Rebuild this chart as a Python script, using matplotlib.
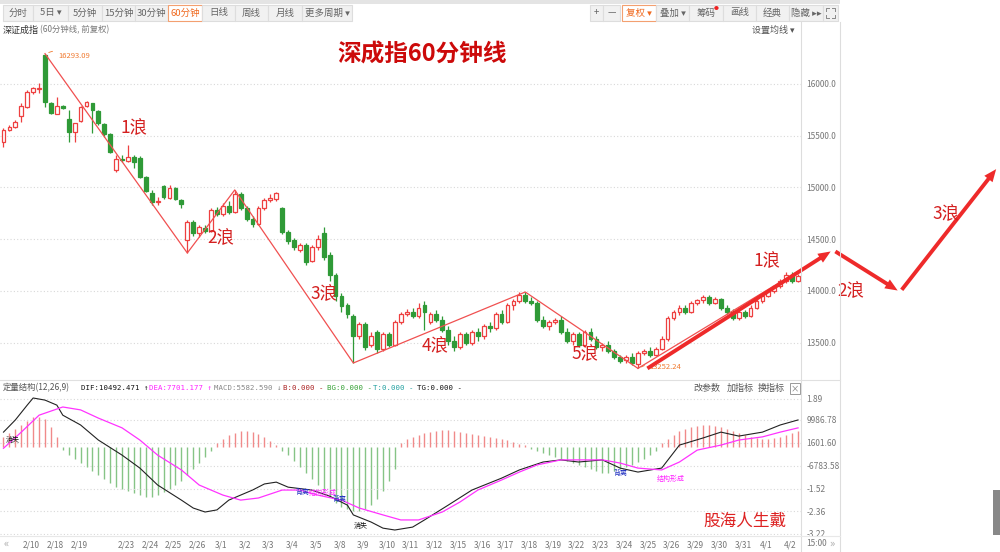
import matplotlib
matplotlib.use("Agg")
import matplotlib.pyplot as plt
from matplotlib.patches import Rectangle
from matplotlib.lines import Line2D
import numpy as np

plt.rcParams['font.family'] = ['Noto Sans CJK SC', 'DejaVu Sans']

# ---- data: 60 minute candles (2/9 last 3 bars, then 4 bars per day) ----
c_open = [15439, 15555, 15584, 15690, 15777, 15922, 15951, 16280, 15816, 15710,
          15787, 15661, 15536, 15642, 15787, 15816, 15739, 15613, 15516, 15169,
          15275, 15256, 15294, 15285, 15101, 14947, 14860, 15014, 14898, 14995,
          14879, 14493, 14667, 14560, 14610, 14580, 14780, 14740, 14820, 14760,
          14940, 14800, 14700, 14650, 14800, 14880, 14890, 14800, 14570, 14490,
          14400, 14440, 14290, 14420, 14560, 14350, 14150, 13950, 13860, 13760,
          13560, 13680, 13480, 13600, 13440, 13580, 13480, 13700, 13780, 13800,
          13760, 13860, 13700, 13780, 13720, 13620, 13520, 13460, 13580, 13500,
          13600, 13560, 13660, 13640, 13780, 13700, 13860, 13900, 13960, 13900,
          13880, 13720, 13660, 13700, 13720, 13600, 13520, 13580, 13480, 13600,
          13540, 13460, 13480, 13420, 13360, 13330, 13360, 13290, 13400, 13420,
          13380, 13440, 13540, 13740, 13800, 13840, 13800, 13880, 13910, 13940,
          13880, 13920, 13840, 13800, 13740, 13800, 13760, 13840, 13900, 13950,
          14000, 14050, 14100, 14150, 14100]
c_high = [15574, 15603, 15652, 15816, 15942, 15971, 16009, 16293, 15826, 15874,
          15797, 15748, 15623, 15787, 15835, 15816, 15748, 15623, 15526, 15314,
          15314, 15410, 15314, 15304, 15111, 14976, 14908, 15024, 15024, 15005,
          14889, 14690, 14690, 14640, 14640, 14800, 14810, 14850, 14870, 14976,
          14960, 14820, 14720, 14820, 14900, 14940, 14960, 14810, 14590, 14510,
          14460, 14460, 14440, 14540, 14620, 14380, 14170, 13980, 13880, 13780,
          13700, 13700, 13600, 13620, 13600, 13600, 13720, 13800, 13830, 13840,
          13880, 13900, 13800, 13820, 13760, 13660, 13560, 13600, 13600, 13620,
          13640, 13680, 13700, 13800, 13820, 13880, 13920, 13990, 13990, 13940,
          13900, 13760, 13720, 13740, 13760, 13640, 13600, 13600, 13620, 13640,
          13560, 13500, 13520, 13440, 13380, 13380, 13400, 13420, 13440, 13460,
          13460, 13560, 13760, 13820, 13860, 13860, 13900, 13920, 13960, 13960,
          13940, 13930, 13860, 13830, 13820, 13820, 13860, 13920, 13960, 14020,
          14060, 14120, 14180, 14180, 14160]
c_low = [15391, 15545, 15574, 15632, 15768, 15903, 15913, 15777, 15710, 15710,
         15758, 15439, 15439, 15632, 15777, 15526, 15603, 15488, 15333, 15150,
         15246, 15246, 15188, 15092, 14956, 14831, 14831, 14889, 14889, 14879,
         14802, 14367, 14530, 14520, 14560, 14570, 14720, 14720, 14740, 14750,
         14780, 14680, 14620, 14640, 14780, 14860, 14870, 14550, 14450, 14400,
         14380, 14250, 14280, 14400, 14300, 14100, 13900, 13800, 13740, 13304,
         13540, 13430, 13460, 13400, 13420, 13460, 13470, 13680, 13760, 13740,
         13740, 13620, 13680, 13700, 13600, 13480, 13420, 13440, 13480, 13480,
         13520, 13540, 13600, 13620, 13680, 13690, 13820, 13880, 13880, 13860,
         13700, 13640, 13620, 13680, 13580, 13500, 13480, 13460, 13460, 13520,
         13440, 13420, 13400, 13340, 13300, 13300, 13280, 13252, 13380, 13360,
         13370, 13430, 13520, 13720, 13770, 13780, 13790, 13860, 13880, 13860,
         13870, 13820, 13780, 13720, 13720, 13740, 13750, 13830, 13880, 13940,
         13980, 14030, 14080, 14080, 14090]
c_close = [15555, 15584, 15632, 15787, 15922, 15961, 15961, 15826, 15719, 15787,
           15768, 15536, 15623, 15777, 15826, 15748, 15623, 15516, 15343, 15275,
           15265, 15294, 15246, 15101, 14966, 14860, 14869, 14908, 14995, 14889,
           14840, 14667, 14560, 14620, 14580, 14780, 14740, 14820, 14760, 14940,
           14800, 14700, 14650, 14800, 14880, 14900, 14950, 14570, 14480, 14420,
           14440, 14280, 14420, 14500, 14330, 14150, 13950, 13850, 13780, 13560,
           13680, 13460, 13560, 13440, 13580, 13480, 13700, 13780, 13800, 13760,
           13840, 13800, 13780, 13720, 13620, 13520, 13460, 13580, 13500, 13600,
           13560, 13660, 13640, 13780, 13700, 13860, 13900, 13960, 13900, 13880,
           13720, 13660, 13700, 13720, 13600, 13520, 13580, 13480, 13600, 13540,
           13460, 13480, 13420, 13360, 13320, 13360, 13300, 13400, 13420, 13380,
           13440, 13540, 13740, 13800, 13840, 13800, 13880, 13910, 13940, 13880,
           13920, 13840, 13800, 13740, 13800, 13760, 13840, 13900, 13950, 14000,
           14050, 14100, 14150, 14100, 14140]

# MACD histogram, one per bar
hist = [3650, 5110, 6570, 8030, 9490, 10950, 10950, 10220, 7300, 3650,
        -1095, -2920, -4380, -5840, -7300, -8760, -10220, -11680, -13140, -14600,
        -15330, -16060, -16790, -17520, -18250, -18250, -17520, -16425, -15330, -13870,
        -12410, -10220, -8030, -5840, -3650, -1460,
        1460, 2920, 4380, 5110, 5840, 5840, 5475, 4745, 3650, 2190, 730,
        -1460, -2920, -5110, -7300, -9490, -11680, -13870, -16060, -18250, -20440,
        -21900, -22630, -23360, -23360, -22630, -21170, -18980, -16060, -12410, -8030,
        1460, 2920, 3650, 4380, 5110, 5475, 5840, 6205, 6205, 5840, 5475, 5110, 4745,
        4380, 4015, 3650, 3285, 2920, 2555, 1825, 1095, 730,
        -730, -1460, -2190, -2920, -3650, -4380, -5110, -5840, -6570, -7300, -8030,
        -8760, -9490, -9490, -8760, -8030, -7300, -6570, -5475, -4380, -2920, -1460,
        1460, 2920, 4380, 5840, 6570, 7300, 7665, 8030, 8030, 7665, 7300, 6570, 5840,
        5110, 4380, 3650, 3285, 2920, 2920, 3285, 3650, 4380, 5110, 5840]

dif_i = [0, 2, 4, 5, 7, 9, 10, 13, 16, 20, 23, 26, 30, 32, 34, 36, 38, 42, 44, 46, 48, 52, 55, 58,
         59, 62, 64, 66, 69, 71, 75, 79, 84, 87, 91, 94, 97, 101, 104, 107, 111, 114, 118, 121,
         124, 128, 131, 134]
dif_v = [0.63, 1.09, 1.65, 1.92, 1.84, 1.65, 1.27, 0.90, 0.33, -0.24, -0.73, -1.37, -1.94, -2.24,
         -2.39, -2.31, -1.94, -1.56, -1.33, -1.26, -1.45, -1.56, -1.79, -2.13, -2.50, -2.77, -3.00,
         -3.07, -2.96, -2.69, -2.13, -1.56, -1.11, -0.80, -0.50, -0.42, -0.50, -0.42, -0.73, -0.88,
         -0.73, 0.14, 0.41, 0.63, 0.48, 0.63, 0.90, 1.09]
dea_i = [0, 3, 6, 10, 13, 16, 20, 23, 26, 30, 33, 37, 40, 43, 47, 50, 53, 57, 60, 64, 67, 70, 74,
         77, 80, 84, 87, 90, 94, 97, 101, 104, 107, 111, 114, 117, 121, 124, 128, 131, 134]
dea_v = [0.02, 0.63, 1.27, 1.58, 1.47, 1.16, 0.79, 0.33, -0.24, -0.80, -1.37, -1.75, -1.94, -1.86,
         -1.56, -1.56, -1.75, -1.94, -2.24, -2.50, -2.69, -2.69, -2.39, -2.01, -1.56, -1.18, -0.88,
         -0.61, -0.42, -0.42, -0.42, -0.54, -0.73, -0.80, -0.50, -0.05, 0.14, 0.33, 0.45, 0.63, 0.79]

# wave points (bar index, price)
wave_i = [7, 31, 39, 59, 88, 107]
wave_p = [16293, 14367, 14976, 13304, 13990, 13252]
new1_i = [107, 134]
new1_p = [13252, 14190]
arrow_i = [108.2, 139.9, 151.2, 167.7]
arrow_p = [13237, 14396, 13990, 15198]
wave_names = ["1浪", "2浪", "3浪", "4浪", "5浪", "1浪", "2浪", "3浪"]
wave_txt_i = [22, 36.7, 54, 72.8, 98, 128.8, 142.9, 158.9]
wave_txt_p = [15584, 14522, 13981, 13478, 13401, 14299, 14010, 14753]

date_labels = ["2/10", "2/18", "2/19", "2/23", "2/24", "2/25", "2/26", "3/1", "3/2", "3/3",
               "3/4", "3/5", "3/8", "3/9", "3/10", "3/11", "3/12", "3/15", "3/16", "3/17",
               "3/18", "3/19", "3/22", "3/23", "3/24", "3/25", "3/26", "3/29", "3/30", "3/31",
               "4/1", "4/2"]
date_day = [0, 1, 2, 4, 5, 6, 7, 8, 9, 10, 11, 12, 13, 14, 15, 16, 17, 18, 19, 20, 21, 22, 23, 24,
            25, 26, 27, 28, 29, 30, 31, 32]

price_ticks = [13500, 14000, 14500, 15000, 15500, 16000]
line_ticks = [1.89, -1.52, -2.36, -3.22]
hist_ticks = [9986.78, 1601.60, -6783.58]

RED = '#ee4040'
GRN = '#2f9a37'
W, H = 1000, 552


def fx(x):
    return x / W


def fy(y):
    return 1 - y / H


fig = plt.figure(figsize=(10, 5.52), dpi=100)
fig.patch.set_facecolor('white')

# ---- toolbar ----
fig.add_artist(Rectangle((0, fy(4)), fx(840), 4 / H, transform=fig.transFigure,
                         facecolor='#e4e4e4', edgecolor='none'))
btns = [("分时", 3, 33), ("5日 ▾", 33, 68), ("5分钟", 68, 102), ("15分钟", 102, 135),
        ("30分钟", 135, 168), ("60分钟", 168, 202), ("日线", 202, 235), ("周线", 235, 268),
        ("月线", 268, 302), ("更多周期 ▾", 302, 352),
        ("+", 590, 603), ("—", 603, 620), ("复权 ▾", 622, 656), ("叠加 ▾", 656, 689),
        ("筹码", 689, 723), ("画线", 723, 756), ("经典", 756, 789), ("隐藏 ▸▸", 789, 823),
        ("", 823, 838)]
for name, x0, x1 in btns:
    sel = name in ("60分钟", "复权 ▾")
    fig.add_artist(Rectangle((fx(x0), fy(21)), fx(x1 - x0), 16 / H, transform=fig.transFigure,
                             facecolor='white' if sel else '#f1f1f1',
                             edgecolor='#f3a070' if sel else '#dddddd', lw=0.8))
    fig.text(fx((x0 + x1) / 2), fy(13), name, ha='center', va='center', fontsize=6.8,
             color='#f06a20' if sel else '#666666')
fig.text(fx(716), fy(9), "●", color='#ee2222', fontsize=3.5, ha='center', va='center')
# fullscreen icon: four small corner marks
for cx, cy, dx, dy in [(826, 8, 1, 1), (835, 8, -1, 1), (826, 18, 1, -1), (835, 18, -1, -1)]:
    fig.add_artist(Line2D([fx(cx), fx(cx), fx(cx + 3 * dx)], [fy(cy + 3 * dy), fy(cy), fy(cy)],
                          transform=fig.transFigure, color='#888888', lw=0.7))

fig.text(fx(3), fy(30), "深证成指", fontsize=6.5, color='#333333', va='center')
fig.text(fx(40), fy(30), "(60分钟线, 前复权)", fontsize=6, color='#777777', va='center')
fig.text(fx(795), fy(30), "设置均线 ▾", fontsize=6.5, color='#555555', va='center', ha='right')

# ---- price panel ----
ax = fig.add_axes([0, fy(378), fx(801), 340 / H])
idx = np.arange(len(c_open))
o = np.array(c_open, float)
h = np.array(c_high, float)
l = np.array(c_low, float)
c = np.array(c_close, float)
up = c >= o
for mask, col, face in ((up, RED, 'white'), (~up, GRN, GRN)):
    ax.vlines(idx[mask], l[mask], h[mask], color=col, lw=0.9, zorder=2)
    body = np.maximum(np.abs(c - o)[mask], 8)
    ax.bar(idx[mask], body, bottom=np.minimum(o, c)[mask], width=0.64,
           facecolor=face, edgecolor=col, lw=0.9, zorder=3)

ax.plot(wave_i, wave_p, color='#f05050', lw=0.9, zorder=4)
ax.plot(new1_i, new1_p, color='#f05050', lw=0.9, zorder=4)
for k in range(3):
    ax.annotate("", xy=(arrow_i[k + 1], arrow_p[k + 1]), xytext=(arrow_i[k], arrow_p[k]),
                arrowprops=dict(arrowstyle='simple,head_length=0.9,head_width=0.75,tail_width=0.28',
                                color='#ee2a2a', lw=0), annotation_clip=False, zorder=6)
for name, xi, pv in zip(wave_names, wave_txt_i, wave_txt_p):
    ax.text(xi, pv, name, fontsize=12.5, color='#d42020', ha='center', va='center',
            clip_on=False, zorder=7)

ax.annotate("16293.09", xy=(7.2, 16293), xytext=(9.2, 16270), fontsize=5.5, color='#f07a30',
            va='center', arrowprops=dict(arrowstyle='-', color='#f07a30', lw=0.6,
                                         connectionstyle='arc3,rad=0.3'))
ax.annotate("13252.24", xy=(107.2, 13252), xytext=(109, 13262), fontsize=5.5, color='#f07a30',
            va='center', arrowprops=dict(arrowstyle='-', color='#f07a30', lw=0.6,
                                         connectionstyle='arc3,rad=0.3'))

ax.set_xlim(-0.59, 134.5)
ax.set_ylim(13159, 16444)
ax.yaxis.tick_right()
ax.set_yticks(price_ticks)
ax.set_yticklabels([f"{t:.1f}" for t in price_ticks], fontsize=6, color='#777777')
ax.tick_params(axis='y', length=0, pad=4)
ax.set_xticks([])
ax.grid(axis='y', color='#d8d8d8', ls=(0, (1, 2)), lw=0.8)
for s in ax.spines.values():
    s.set_visible(False)
ax.text(0.5265, 0.95, "深成指60分钟线", transform=ax.transAxes, ha='center', va='center',
        fontsize=17, color='#cc0a0a', fontweight='bold')

# ---- MACD panel ----
axh = fig.add_axes([0, fy(535), fx(801), 140 / H])
axm = axh.twinx()
axm.set_zorder(axh.get_zorder() + 1)
axm.patch.set_visible(False)
hv = np.array(hist, float)
axh.vlines(idx, 0, hv, colors=np.where(hv > 0, '#f08a8a', '#86c486'), lw=1.0)
axh.set_ylim(-32085, 18959)
axh.set_xlim(-0.59, 134.5)
axm.set_ylim(-3.259, 2.033)
axm.plot(dif_i, dif_v, color='#222222', lw=0.8)
axm.plot(dea_i, dea_v, color='#ff33ff', lw=0.9)

axh.yaxis.tick_right()
axh.set_yticks(hist_ticks)
axh.set_yticklabels([f"{t:.2f}" for t in hist_ticks], fontsize=6, color='#777777')
axm.set_yticks(line_ticks)
axm.set_yticklabels([f"{t:.2f}" for t in line_ticks], fontsize=6, color='#777777')
for a in (axh, axm):
    a.tick_params(axis='y', length=0, pad=4)
    for s in a.spines.values():
        s.set_visible(False)
axh.grid(axis='y', color='#d8d8d8', ls=(0, (1, 2)), lw=0.8)
axm.grid(axis='y', color='#d8d8d8', ls=(0, (1, 2)), lw=0.8)
axh.set_xticks([3 + 4 * d + 1.7 for d in date_day])
axh.set_xticklabels(date_labels, fontsize=6, color='#777777')
axh.tick_params(axis='x', length=0, pad=4)
fig.text(fx(817), fy(544), "15:00", fontsize=6, color='#777777', ha='center', va='center')
fig.text(fx(6), fy(544), "«", fontsize=8, color='#aaaaaa', ha='center', va='center')
fig.text(fx(832), fy(544), "»", fontsize=8, color='#aaaaaa', ha='center', va='center')

# signal marks on MACD
for xi, yv, s, col in [(1.5, 0.33, "消失", '#111111'), (50.5, -1.62, "背离", '#2030c0'),
                       (53.9, -1.67, "结构形成", '#ff22ff'), (56.7, -1.88, "背离", '#2030c0'),
                       (60.3, -2.91, "消失", '#111111'), (104, -0.91, "背离", '#2030c0'),
                       (112.5, -1.13, "结构形成", '#ff22ff')]:
    axm.text(xi, yv, s, fontsize=5, color=col, ha='center', va='center')

# MACD header
hdr = [(3, "定量结构(12,26,9)", '#555555', None), (81, "DIF:10492.471 ↑", '#111111', 'mono'),
       (149, "DEA:7701.177 ↑", '#ff22ff', 'mono'), (214, "MACD:5582.590 ↓", '#888888', 'mono'),
       (283, "B:0.000 -", '#aa2222', 'mono'), (327, "BG:0.000 -", '#33a033', 'mono'),
       (373, "T:0.000 -", '#22a0a0', 'mono'), (417, "TG:0.000 -", '#111111', 'mono')]
for x0, s, col, fam in hdr:
    if fam:
        fig.text(fx(x0), fy(388), s, fontsize=5.3, color=col, va='center',
                 family=['DejaVu Sans Mono', 'Noto Sans CJK SC'])
    else:
        fig.text(fx(x0), fy(388), s, fontsize=6, color=col, va='center')
for x0, s in [(693, "改参数"), (727, "加指标"), (758, "换指标")]:
    fig.text(fx(x0), fy(388), s, fontsize=6.5, color='#555555', va='center')
fig.add_artist(Rectangle((fx(790), fy(394)), fx(10), 11 / H, transform=fig.transFigure,
                         facecolor='white', edgecolor='#999999', lw=0.7))
fig.text(fx(795), fy(388.5), "×", fontsize=6, color='#777777', ha='center', va='center')

fig.text(fx(745), fy(521), "股海人生戴", fontsize=12, color='#dd2222', ha='center', va='center')

# frame lines
for xline in (801, 840):
    fig.add_artist(Line2D([fx(xline), fx(xline)], [fy(22), fy(552)], transform=fig.transFigure,
                          color='#dddddd', lw=0.8))
fig.add_artist(Line2D([0, fx(840)], [fy(380), fy(380)], transform=fig.transFigure,
                      color='#e0e0e0', lw=0.8))
fig.add_artist(Line2D([0, fx(840)], [fy(536), fy(536)], transform=fig.transFigure,
                      color='#e8e8e8', lw=0.8))
fig.add_artist(Rectangle((fx(993), fy(535)), fx(7), 45 / H, transform=fig.transFigure,
                         facecolor='#888888', edgecolor='none'))

fig.savefig("out.png", dpi=100)
